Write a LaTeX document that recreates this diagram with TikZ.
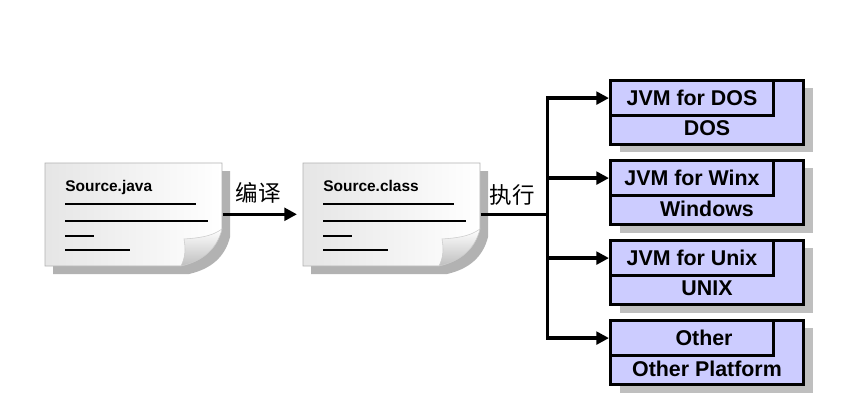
\documentclass[tikz,border=0pt]{standalone}
\usepackage{fontspec}
\setmainfont{Liberation Sans}
\newfontfamily\cjk{Noto Sans CJK SC}
\usetikzlibrary{arrows.meta,positioning,shadows,calc}
\definecolor{lavender}{HTML}{CCCCFF}
\definecolor{shadowgray}{HTML}{BFBFBF}
\tikzset{
	docarea/.style={anchor=north west, minimum width=4.425cm, minimum height=2.55cm, inner sep=0pt},
	doctitle/.style={font=\fontsize{11}{13}\selectfont\bfseries, inner sep=0pt},
	docline/.style={line width=0.8pt},
	platbox/.style={draw=black, line width=2.1pt, fill=lavender, anchor=north west, minimum width=4.825cm, minimum height=1.6cm, inner sep=0pt,
		drop shadow={shadow xshift=0.23cm, shadow yshift=-0.2cm, fill=shadowgray, opacity=1, draw=none}},
	jvmbox/.style={draw=black, line width=2.1pt, fill=lavender, anchor=north west, minimum width=4.075cm, minimum height=0.88cm, inner sep=0pt, font=\fontsize{15.2}{18}\selectfont\bfseries},
	oslabel/.style={font=\fontsize{15.2}{18}\selectfont\bfseries, inner sep=0pt},
	cjklabel/.style={font=\cjk\fontsize{16}{18}\selectfont, inner sep=0pt},
	flow/.style={line width=2.5pt, -{Triangle[length=9pt,width=9pt]}}
}
\newcommand\paperdoc[2]{%
	\begin{scope}[shift={(#1.north west)}]
		\fill[black!30] (8,8) -- (185,8) -- (185,74) .. controls (180,94) and (166,106) .. (144,111) -- (8,111) -- cycle;
		\shade[left color=black!10, right color=white, draw=black!30, line width=0.6pt] (0,0) -- (177,0) -- (177,66) .. controls (172,86) and (158,98) .. (136,103) -- (0,103) -- cycle;
		\shade[top color=white, bottom color=black!25, draw=black!20, line width=0.4pt] (177,66) .. controls (166,74) and (152,75) .. (139,76) .. controls (141,87) and (140,95) .. (136,103) .. controls (158,98) and (172,86) .. (177,66) -- cycle;
		\node[doctitle, anchor=base west] (#1title) at (20,28) {#2};
		\draw[docline] (20,41) -- (151,41);
		\draw[docline] (20,58) -- (163,58);
		\draw[docline] (20,73) -- (49,73);
		\draw[docline] (20,87) -- (85,87);
	\end{scope}}

\begin{document}
\begin{tikzpicture}[x=0.025cm,y=-0.025cm]
			%%%%% START %%%%%
			\useasboundingbox (0,0) rectangle (843,409);
			\fill[white] (0,0) rectangle (843,409);
			
			\node[docarea] (java) at (45,163) {};
			\paperdoc{java}{Source.java}
			\node[docarea] (class) at (303,163) {};
			\paperdoc{class}{Source.class}
			
			\draw[flow, shorten >=0.15cm] (java.east) -- (class.west);
			\node[cjklabel] (compile) at (258,193) {编译};
			
			\node[platbox] (dos) at (609,79) {};
			\node[jvmbox] (jvmdos) at (dos.north west) {JVM for DOS};
			\node[oslabel] (osdos) at ($(dos.south)+(0,-17.5)$) {DOS};
			
			\node[platbox] (win) at (609,159) {};
			\node[jvmbox] (jvmwin) at (win.north west) {JVM for Winx};
			\node[oslabel] (oswin) at ($(win.south)+(0,-17.5)$) {Windows};
			
			\node[platbox] (unix) at (609,239) {};
			\node[jvmbox] (jvmunix) at (unix.north west) {JVM for Unix};
			\node[oslabel] (osunix) at ($(unix.south)+(0,-17.5)$) {UNIX};
			
			\node[platbox] (other) at (609,319) {};
			\node[jvmbox] (jvmother) at (other.north west) {\hspace*{0.6cm}Other};
			\node[oslabel] (osother) at ($(other.south)+(0,-17.5)$) {Other Platform};
			
			\coordinate (fork) at ($(class.east)+(67,0)$);
			\draw[line width=2.5pt] (class.east) -- (fork);
			\node[cjklabel] (run) at (512,195) {执行};
			\draw[flow] (fork) |- (jvmdos.west);
			\draw[flow] (fork |- jvmwin.west) -- (jvmwin.west);
			\draw[flow] (fork |- jvmunix.west) -- (jvmunix.west);
			\draw[flow] (fork) |- (jvmother.west);
			
			%%%%% END %%%%%
\end{tikzpicture}
\end{document}
